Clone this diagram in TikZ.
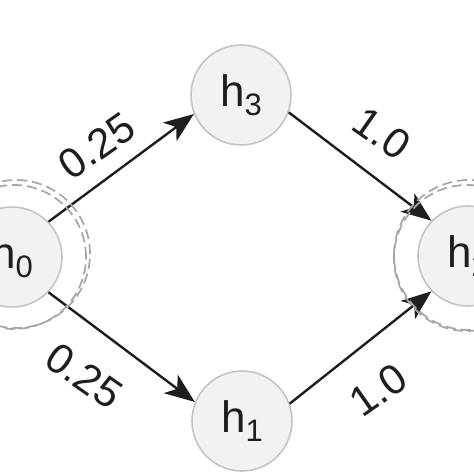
\documentclass[tikz,border=0pt]{standalone}
\usepackage{fontspec}
\setmainfont{Liberation Sans}
\usetikzlibrary{arrows.meta}
\definecolor{nodefill}{HTML}{F2F2F2}
\definecolor{nodeline}{HTML}{C4C4C4}
\definecolor{dashcol}{HTML}{A6A6A6}
\definecolor{edgecol}{HTML}{1E1E1E}
\newcommand{\hsub}[1]{h\raisebox{-9pt}{\fontsize{31}{31}\selectfont #1}}
\begin{document}
\begin{tikzpicture}[x=1pt,y=-1pt,
  state/.style={circle,draw=nodeline,fill=nodefill,line width=1.6pt,minimum size=100pt,inner sep=0pt,font=\fontsize{44}{44}\selectfont,text=edgecol},
  edge/.style={draw=edgecol,line width=2.4pt,-{Stealth[length=30pt,width=23pt,inset=8pt]}},
  wlabel/.style={font=\fontsize{42}{42}\selectfont,text=edgecol,inner sep=0pt},
  ring/.style={draw=dashcol,line width=1.7pt,dash pattern=on 10pt off 5pt}]
\useasboundingbox (0,0) rectangle (474,474);
\node[state] (h0) at (12,257) {\hsub{0}};
\node[state] (h3) at (241,95) {\hsub{3}};
\node[state] (h1) at (242,421) {\hsub{1}};
\node[state] (h2) at (468,256) {\hsub{2}};
\draw[edge] (h0.44) -- (h3.202);
\draw[edge] (h0.-44) -- (h1.158);
\draw[edge] (h3.-20) -- (h2.136);
\draw[edge] (h1.20) -- (h2.224);
\node[wlabel,rotate=35] (w03) at (97,146) {0.25};
\node[wlabel,rotate=-35] (w01) at (84,376) {0.25};
\node[wlabel,rotate=-35] (w32) at (382,133) {1.0};
\node[wlabel,rotate=35] (w12) at (378,390) {1.0};
\draw[ring] ([shift={(2,0)}]h0.center) circle[radius=72pt];
\draw[ring] ([shift={(4,-3)}]h0.center) circle[radius=74pt];
\draw[ring] ([shift={(-1,2)}]h2.center) circle[radius=73pt];
\draw[ring] ([shift={(1,-1)}]h2.center) circle[radius=75pt];
\end{tikzpicture}
\end{document}
